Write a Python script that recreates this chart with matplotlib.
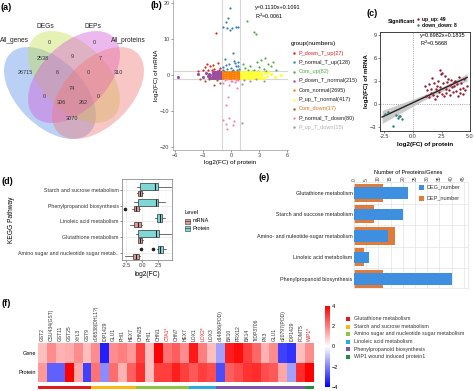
import numpy as np
import matplotlib
matplotlib.use("Agg")
import matplotlib.pyplot as plt
from matplotlib.patches import Ellipse, Rectangle
from matplotlib.colors import LinearSegmentedColormap, ListedColormap

plt.rcParams['font.family'] = ['Liberation Sans', 'DejaVu Sans']
plt.rcParams['axes.linewidth'] = 0.5

# ---------------- data ----------------
# (a) Venn
venn_names = ['All_genes', 'DEGs', 'DEPs', 'All_proteins']
venn_colors = ['#5b8fe6', '#c4e050', '#d35ad8', '#f27878']
venn_counts = [26715, 0, 0, 310, 2538, 9, 7, 6, 0, 74, 0, 306, 262, 0, 3070]

# (b) scatter groups
b_groups = ['P_down_T_up', 'P_normal_T_up', 'Com_up', 'P_down_T_normal', 'Com_normal',
            'P_up_T_normal', 'Com_down', 'P_normal_T_down', 'P_up_T_down']
b_counts = [27, 128, 82, 215, 2695, 417, 17, 80, 15]
pdtu_x = [-1.6, -2.5, -2.2, -1.8, -1.4, -3.0, -1.2, -2.8, -1.5, -2.0, -3.5, -1.3, -2.6, -1.9]
pdtu_y = [11.6, 1.5, 2.5, 1.8, 3.2, 1.3, 2.0, 2.2, 1.2, 1.4, 1.1, 1.5, 3.0, 2.7]
pntu_x = [-0.1, -0.3, -0.5, -0.8, -0.4, 0.1, 0.5, 0.8, -0.1, 0.2, -0.6, 0.3, 0.7, -0.2, 0.5, -0.8,
          0.0, 0.9, -0.4, 0.2, 0.6, -0.7, 0.4, -0.5, 0.8, -0.9, 0.1]
pntu_y = [18.5, 15.8, 14.8, 13.3, 12.9, 13.0, 13.3, 13.2, 12.5, 6.0, 4.5, 4.0, 3.5, 3.0, 2.5, 2.2,
          2.0, 1.8, 1.6, 1.5, 1.3, 1.2, 3.2, 2.7, 2.4, 1.5, 1.2]
cu_x = [1.7, 2.5, 2.7, 3.2, 3.6, 2.8, 4.0, 1.5, 2.0, 2.5, 3.0, 3.5, 4.3, 1.3, 2.2, 4.8, 3.8, 1.8, 2.9, 4.5]
cu_y = [15.1, 11.8, 11.3, 4.2, 4.6, 3.5, 3.0, 2.0, 2.5, 1.5, 2.2, 1.8, 2.5, 3.0, 1.2, 1.4, 1.2, 1.5, 1.1, 3.5]
pdtn_x = [-5.7, -3.5, -3.0, -2.7, -2.5, -2.3, -2.1, -1.9, -1.7, -1.5, -1.3, -1.1, -1.9, -1.7, -1.5,
          -1.3, -1.1, -1.9, -1.7, -1.5, -1.3, -1.1, -1.9, -1.7, -1.5, -1.3, -1.1, -2.2, -2.4]
pdtn_y = [-0.6, 0.3, -0.5, 0.6, -0.2, 0.4, -0.7, 0.8, 0.8, 0.8, 0.8, 0.8, 0.25, 0.25, 0.25,
          0.25, 0.25, -0.3, -0.3, -0.3, -0.3, -0.3, -0.8, -0.8, -0.8, -0.8, -0.8, 0.1, -0.6]
cn_x = [-0.85, -0.55, -0.25, 0.05, 0.35, 0.65, 0.9, -0.85, -0.55, -0.25, 0.05, 0.35, 0.65, 0.9,
        -0.85, -0.55, -0.25, 0.05, 0.35, 0.65, 0.9, -0.85, -0.55, -0.25, 0.05, 0.35, 0.65, 0.9]
cn_y = [0.75, 0.75, 0.75, 0.75, 0.75, 0.75, 0.75, 0.25, 0.25, 0.25, 0.25, 0.25, 0.25, 0.25,
        -0.25, -0.25, -0.25, -0.25, -0.25, -0.25, -0.25, -0.75, -0.75, -0.75, -0.75, -0.75, -0.75, -0.75]
putn_x = [1.1, 1.4, 1.7, 2.0, 2.3, 2.6, 2.9, 3.2, 1.1, 1.4, 1.7, 2.0, 2.3, 2.6, 2.9, 3.2,
          1.1, 1.4, 1.7, 2.0, 2.3, 2.6, 2.9, 3.2, 1.1, 1.4, 1.7, 2.0, 2.3, 2.6, 2.9, 3.2,
          3.6, 3.9, 4.3, 4.7, 3.5, 4.0, 5.3]
putn_y = [0.75, 0.75, 0.75, 0.75, 0.75, 0.75, 0.75, 0.75, 0.25, 0.25, 0.25, 0.25, 0.25, 0.25, 0.25, 0.25,
          -0.25, -0.25, -0.25, -0.25, -0.25, -0.25, -0.25, -0.25, -0.75, -0.75, -0.75, -0.75, -0.75, -0.75, -0.75, -0.75,
          0.5, -0.3, 0.2, -0.6, -0.8, 0.8, 0.0]
cd_x = [-1.5, -2.3, -1.2, -2.8, -1.8, -3.3]
cd_y = [-1.5, -1.2, -2.2, -1.6, -2.8, -1.1]
pntd_x = [-0.3, -0.5, -0.8, -0.2, -0.5, 0.2, -0.4, 0.3, -0.6, 0.4, 0.8, -0.2, 0.1, -0.9, 0.6, -0.4, 0.5, 0.0]
pntd_y = [-6.0, -8.2, -12.4, -12.0, -13.5, -13.8, -15.0, -12.8, -1.5, -2.0, -1.3, -2.8, -1.8, -2.3, -3.5, -1.2, -1.4, -1.6]
putd_x = [1.15, 1.4, 2.0, 2.7, 3.5, 1.2]
putd_y = [-13.4, -1.4, -1.8, -1.2, -1.6, -2.6]
b_colors = ['#e41a1c', '#377eb8', '#4daf4a', '#984ea3', '#ff7f00', '#ffff33', '#a65628', '#f781bf', '#999999']
b_text_colors = ['#e41a1c', '#222222', '#4daf4a', '#222222', '#222222', '#222222', '#e07020', '#222222', '#b0b0b0']

# (c) significant points
c_up_x = [1.05, 1.15, 1.22, 1.35, 1.41, 1.52, 1.60, 1.68, 1.75, 1.83, 1.90, 1.96, 2.05, 2.10, 2.18, 2.25,
          2.31, 2.38, 2.44, 2.50, 2.55, 2.62, 2.70, 2.76, 2.82, 2.90, 2.96, 3.02, 3.10, 3.18, 3.24, 3.30,
          3.38, 3.45, 3.52, 3.60, 3.66, 3.74, 3.80, 3.88, 3.95, 4.05, 4.12, 4.20, 4.30, 4.38, 4.45, 4.55, 4.68]
c_up_y = [2.3, 1.0, 1.8, 2.6, 0.9, 1.5, 2.0, 3.4, 1.2, 2.8, 0.7, 1.9, 2.4, 1.1, 3.0, 1.6,
          4.4, 2.2, 3.9, 1.3, 4.1, 2.7, 1.0, 3.6, 2.0, 1.4, 2.9, 3.3, 1.8, 2.5, 1.2, 3.1,
          2.2, 1.6, 2.9, 2.4, 3.0, 1.7, 2.6, 1.1, 3.5, 2.0, 1.5, 2.8, 1.3, 2.1, 3.2, 1.8, 2.3]
c_dn_x = [-2.45, -2.2, -1.75, -1.45, -1.3, -1.2, -1.1, -0.95]
c_dn_y = [-1.3, -1.1, -2.9, -1.4, -1.8, -1.6, -1.5, -2.0]
c_slope, c_icpt = 0.6982, 0.1835

# (d) boxplots: whislo, q1, med, q3, whishi
d_paths = ['Starch and sucrose metabolism', 'Phenylpropanoid biosynthesis', 'Linoleic acid metabolism',
           'Glutathione metabolism', 'Amino sugar and nucleotide sugar metab..']
d_prot = [[-0.8, -0.3, 2.0, 2.4, 4.5], [-1.3, -0.6, 2.1, 2.5, 3.5], [2.0, 2.3, 2.7, 3.1, 3.5],
          [-1.0, -0.6, 2.1, 2.6, 4.5], [2.3, 2.5, 2.8, 3.2, 3.6]]
d_mrna = [[-0.8, -0.7, -0.4, 0.0, 0.1], [-1.5, -1.3, -1.0, -0.5, -0.4], [-1.9, -1.2, -0.7, -0.1, 0.0],
          [-0.7, -0.6, -0.4, 0.0, 0.1], [-2.6, -1.4, -1.0, -0.5, -0.3]]
d_prot_fliers = [[], [], [], [], [-0.15, 1.65]]
d_mrna_fliers = [[], [-2.6], [], [], []]

# (e) bars
e_paths = ['Glutathione metabolism', 'Starch and succose metabolism', 'Amino- and nuleotide-sugar metabolism',
           'Linoleic acid metabolism', 'Phenylpropanoid biosynthesis']
e_deg = [22, 20, 14, 6, 40]
e_dep = [12, 8, 17, 4, 12]

# (f) heatmap
f_genes = ['GST2', 'CSU434(GST)', 'GST11', 'GST25', 'XYL3', 'GST9', 'd06538(DHL1?)', 'IDP1429', 'GLU1',
           'PHI1', 'HEX7', 'CHN25', 'PHI1', 'CHN1', 'CTA1*', 'CHN7', 'HEX7', 'LOX1', 'LOX2*', 'LOX3',
           'd14806(POD)', 'BX10', 'PRX12', 'BX14', 'TIDP3706', 'PX3', 'GLU1', 'd20797(POD)', 'IDP1429',
           'FOMT5', 'WIP1*']
f_gene_vals = [1.0, 1.8, 1.2, 1.3, 1.8, 1.0, 1.8, -3.5, 1.8, 2.0, 1.6, 3.0, 1.0, 4.0, 2.2, 2.5, 1.8,
               3.6, 2.0, 1.0, -1.5, 3.5, 3.8, 3.0, 2.4, 1.2, 1.8, -3.0, -3.2, 1.0, 1.8]
f_prot_vals = [1.6, -2.5, -2.5, 4.0, 1.4, -3.0, 2.2, -1.8, 2.3, 1.2, 2.5, 3.3, 1.0, 3.0, 3.0, 3.5, 3.0,
               2.6, 3.0, 2.8, -2.8, 2.5, 2.8, 3.2, 3.3, 2.8, 2.6, 1.4, -1.5, 3.3, 4.0]
f_cat_idx = [0, 0, 0, 0, 0, 0, 1, 1, 1, 1, 1, 2, 2, 2, 2, 2, 2, 3, 3, 3, 4, 4, 4, 4, 4, 4, 4, 4, 4, 4, 5]
f_cat_names = ['Glutathione metabolism', 'Starch and sucrose metabolism',
               'Amino sugar and nucleotide sugar metabolism', 'Linoleic acid metabolism',
               'Phenylpropanoid biosynthesis', 'WIP1 wound induced protein1']
f_cat_colors = ['#e31a1c', '#fdb515', '#8cc63f', '#29abe2', '#7b55b0', '#1f8f3a']

# ---------------- figure ----------------
W, H = 474, 391
fig = plt.figure(figsize=(W / 100, H / 100), dpi=100)


def box(x0, y0, x1, y1):
    return [x0 / W, 1 - y1 / H, (x1 - x0) / W, (y1 - y0) / H]


ov = fig.add_axes([0, 0, 1, 1], zorder=20)
ov.set_xlim(0, W)
ov.set_ylim(H, 0)
ov.axis('off')
ov.patch.set_alpha(0)

for lab, (x, y) in zip(['(a)', '(b)', '(c)', '(d)', '(e)', '(f)'],
                       [(6, 7), (156, 5), (372, 14), (7, 181), (264, 177), (6, 304)]):
    ov.text(x, y, lab, fontsize=6.5, fontweight='bold', ha='center', va='center')

# ---- (a) Venn ----
ell_geom = [((50, 93), 45), ((74, 77), 45), ((74, 77), -45), ((98, 93), -45)]
for (c, ang), col in zip(ell_geom, venn_colors):
    ov.add_patch(Ellipse(c, 112, 66, angle=ang, fc=col, alpha=0.42, lw=0))
venn_pos = [(25, 72), (49, 43), (94, 43), (118, 72), (43, 58), (72, 56), (100, 58), (57, 72), (88, 72),
            (72, 88), (44, 96), (61, 102), (83, 102), (98, 96), (72, 118)]
for v, (x, y) in zip(venn_counts, venn_pos):
    ov.text(x, y, str(v), fontsize=4, ha='center', va='center', color='#333')
for name, (x, y) in zip(venn_names, [(14, 41), (45, 26), (93, 26), (128, 41)]):
    ov.text(x, y, name, fontsize=4.8, ha='center', va='center', color='#222')

# ---- (b) scatter ----
axb = fig.add_axes(box(173, 0, 288, 150))
b_xs = [pdtu_x, pntu_x, cu_x, pdtn_x, cn_x, putn_x, cd_x, pntd_x, putd_x]
b_ys = [pdtu_y, pntu_y, cu_y, pdtn_y, cn_y, putn_y, cd_y, pntd_y, putd_y]
for v in (-1, 1):
    axb.axvline(v, color='#d6d6d6', lw=0.8, zorder=0)
    axb.axhline(v, color='#d6d6d6', lw=0.8, zorder=0)
for xs, ys, col, g in zip(b_xs, b_ys, b_colors, b_groups):
    size = 5 if g in ('Com_normal', 'P_up_T_normal', 'P_down_T_normal') else 2.5
    axb.scatter(xs, ys, s=size, c=col, lw=0, zorder=2)
axb.set_xlim(-6.2, 6.1)
axb.set_ylim(-20.8, 20.8)
axb.set_xticks([-6, -3, 0, 3, 6])
axb.set_yticks([-20, -10, 0, 10, 20])
axb.tick_params(labelsize=4, length=1.5, width=0.4, pad=1, colors='#444')
for s in ('top', 'right'):
    axb.spines[s].set_visible(False)
for s in ('left', 'bottom'):
    axb.spines[s].set_color('#999')
axb.set_xlabel('log2(FC) of protein', fontsize=4.5, labelpad=1)
axb.set_ylabel('log2(FC) of mRNA', fontsize=4.5, labelpad=1)
ov.text(255, 7, 'y=0.1130x+0.1091', fontsize=4, va='center')
ov.text(255, 16, 'R$^2$=0.0061', fontsize=4, va='center')
ov.text(291, 43, 'group(numbers)', fontsize=4.6, va='center')
for i, (g, n, col, tc) in enumerate(zip(b_groups, b_counts, b_colors, b_text_colors)):
    y = 53 + 9.3 * i
    ov.scatter([294], [y], s=3, c=col, lw=0)
    ov.text(299, y, f'{g}({n})', fontsize=4, va='center', color=tc)

# ---- (c) ----
axc = fig.add_axes(box(380, 32, 470, 131))
allx = np.array(c_up_x + c_dn_x)
ally = np.array(c_up_y + c_dn_y)
xl = np.linspace(-2.7, 4.7, 60)
yl = c_slope * xl + c_icpt
resid = ally - (c_slope * allx + c_icpt)
s_err = np.sqrt(np.sum(resid ** 2) / (len(allx) - 2))
ci = 2.0 * s_err * np.sqrt(1 / len(allx) + (xl - allx.mean()) ** 2 / np.sum((allx - allx.mean()) ** 2))
axc.fill_between(xl, yl - ci, yl + ci, color='#bdbdbd', alpha=0.8, lw=0, zorder=1)
axc.plot(xl, yl, color='#222', lw=1.0, zorder=2)
axc.axvline(0, color='#888', ls=':', lw=0.6, zorder=0)
axc.axhline(0, color='#888', ls=':', lw=0.6, zorder=0)
axc.scatter(c_up_x, c_up_y, s=3, c='#8e1b2e', lw=0, zorder=3)
axc.scatter(c_dn_x, c_dn_y, s=3, c='#2c7873', lw=0, zorder=3)
axc.set_xlim(-2.88, 4.95)
axc.set_ylim(-3.52, 9.39)
axc.set_xticks([-2.5, 0.0, 2.5])
axc.set_xticklabels(['-2.5', '0.0', '2.5'])
axc.set_yticks([-3, 0, 3, 6, 9])
axc.tick_params(labelsize=4, length=1.5, width=0.4, pad=1, colors='#333')
for s in axc.spines.values():
    s.set_color('#222')
    s.set_linewidth(0.6)
axc.set_xlabel('log2(FC) of protein', fontsize=4.5, fontweight='bold', labelpad=1.5)
axc.set_ylabel('log2(FC) of mRNA', fontsize=4.5, fontweight='bold', labelpad=0.5)
ov.text(470, 134.5, '5.0', fontsize=4, ha='center', va='top', color='#333')
ov.text(420, 35, 'y=0.6982x+0.1835', fontsize=4, va='center')
ov.text(420, 43, 'R$^2$=0.5668', fontsize=4, va='center')
ov.text(388, 22, 'Significant', fontsize=3.8, fontweight='bold', va='center')
ov.scatter([418], [19], s=3, c='#8e1b2e', lw=0)
ov.scatter([418], [25], s=3, c='#2c7873', lw=0)
ov.text(422, 19, 'up_up: 49', fontsize=3.6, va='center', fontweight='bold')
ov.text(422, 25, 'down_down: 8', fontsize=3.6, va='center', fontweight='bold')

# ---- (d) ----
axd = fig.add_axes(box(122, 179, 172, 260))
axd.set_facecolor('white')
pos = np.array([5, 4, 3, 2, 1])
for v in pos:
    axd.axhline(v, color='#e6e6e6', lw=0.5, zorder=0)
for v in (-2.5, 0, 2.5):
    axd.axvline(v, color='#e6e6e6', lw=0.5, zorder=0)
for v in (-1.25, 1.25, 3.75):
    axd.axvline(v, color='#f2f2f2', lw=0.3, zorder=0)


def mkstats(arr, fl):
    return [dict(whislo=s[0], q1=s[1], med=s[2], q3=s[3], whishi=s[4], fliers=f) for s, f in zip(arr, fl)]


for stats, off, wid, fc in [(mkstats(d_prot, d_prot_fliers), 0.22, 0.45, '#7fd7d7'),
                            (mkstats(d_mrna, d_mrna_fliers), -0.2, 0.32, '#e09a94')]:
    axd.bxp(stats, positions=pos + off, widths=wid, orientation='horizontal', patch_artist=True,
            showcaps=False,
            boxprops=dict(facecolor=fc, edgecolor='#333', lw=0.5),
            medianprops=dict(color='#222', lw=0.8),
            whiskerprops=dict(color='#333', lw=0.5),
            flierprops=dict(marker='o', ms=1.6, mfc='#222', mec='#222'))
axd.set_xlim(-3.1, 4.6)
axd.set_ylim(0.55, 5.7)
axd.set_yticks(pos)
axd.set_yticklabels(d_paths)
axd.set_xticks([-2.5, 0, 2.5])
axd.set_xticklabels(['-2.5', '0.0', '2.5'])
axd.tick_params(labelsize=3.8, length=1.5, width=0.4, pad=1, colors='#333')
for s in axd.spines.values():
    s.set_color('#777')
axd.set_xlabel('log2(FC)', fontsize=4.8, labelpad=1.5)
ov.text(12, 220, 'KEGG Pathway', fontsize=4.8, rotation=90, ha='center', va='center')
ov.text(185, 213, 'Level', fontsize=4.2, va='center')
for y, fc, lab in [(221, '#e09a94', 'mRNA'), (228, '#7fd7d7', 'Protein')]:
    ov.add_patch(Rectangle((185, y - 2.5), 5, 5, fc=fc, ec='#333', lw=0.4))
    ov.plot([185, 190], [y, y], color='#222', lw=0.4)
    ov.text(193, y, lab, fontsize=4, va='center')

# ---- (e) ----
axe = fig.add_axes(box(354, 182, 468, 288))
yy = np.arange(len(e_paths))
for v in range(0, 50, 5):
    axe.axvline(v, color='#e3e3e3', lw=0.5, zorder=0)
for v in (0.5, 1.5, 2.5, 3.5):
    axe.axhline(v, color='#e3e3e3', lw=0.5, zorder=0)
axe.barh(yy, e_dep, height=0.84, color='#e07b39', zorder=2)
axe.barh(yy, e_deg, height=0.55, color='#3f8fe0', zorder=3)
axe.set_xlim(0, 46.7)
axe.set_ylim(4.42, -0.51)
axe.xaxis.tick_top()
axe.set_xticks(range(0, 50, 5))
axe.tick_params(axis='x', labelsize=3.6, rotation=90, length=0, pad=1, colors='#444')
axe.set_yticks(yy)
axe.set_yticklabels(e_paths)
axe.tick_params(axis='y', labelsize=3.9, length=0, pad=1, colors='#222')
for s in axe.spines.values():
    s.set_color('#e3e3e3')
ov.text(408, 172, 'Number of Preoteins/Genes', fontsize=4, ha='center', va='center')
for y, col, lab in [(187, '#3f8fe0', 'DEG_number'), (198, '#e07b39', 'DEP_number')]:
    ov.add_patch(Rectangle((419, y - 2.5), 5, 5, fc=col, lw=0))
    ov.text(427, y, lab, fontsize=4, va='center', color='#333')

# ---- (f) ----
cmap = LinearSegmentedColormap.from_list('bwr2', ['#0000ff', '#ffffff', '#ff0000'])
axf = fig.add_axes(box(38, 343, 314, 382))
mat = np.array([f_gene_vals, f_prot_vals])
mesh = axf.pcolormesh(mat, cmap=cmap, vmin=-4, vmax=4)
axf.set_ylim(2, 0)
axf.set_xlim(0, len(f_genes))
axf.xaxis.tick_top()
axf.set_xticks(np.arange(len(f_genes)) + 0.5)
axf.set_xticklabels(f_genes, rotation=90, fontsize=3.6)
for t in axf.get_xticklabels():
    t.set_color('#e31a1c' if t.get_text().endswith('*') else '#333')
axf.set_yticks([0.5, 1.5])
axf.set_yticklabels(['Gene', 'Protein'], fontsize=4)
axf.tick_params(length=0, pad=1.5)
for s in axf.spines.values():
    s.set_visible(False)

axcat = fig.add_axes(box(38, 386, 314, 389))
axcat.pcolormesh(np.array([f_cat_idx]), cmap=ListedColormap(f_cat_colors), vmin=-0.5, vmax=5.5)
axcat.axis('off')

cax = fig.add_axes(box(325, 306, 330, 387))
cb = fig.colorbar(mesh, cax=cax, ticks=[-4, -2, 0, 2, 4])
cb.outline.set_visible(False)
cax.tick_params(labelsize=4, length=0, pad=1.5)

for i, (name, col) in enumerate(zip(f_cat_names, f_cat_colors)):
    y = 319 + 7.5 * i
    ov.add_patch(Rectangle((346, y - 2), 4, 4, fc=col, lw=0))
    ov.text(354, y, name, fontsize=3.8, va='center', color='#333')

fig.savefig('out.png', dpi=100)
